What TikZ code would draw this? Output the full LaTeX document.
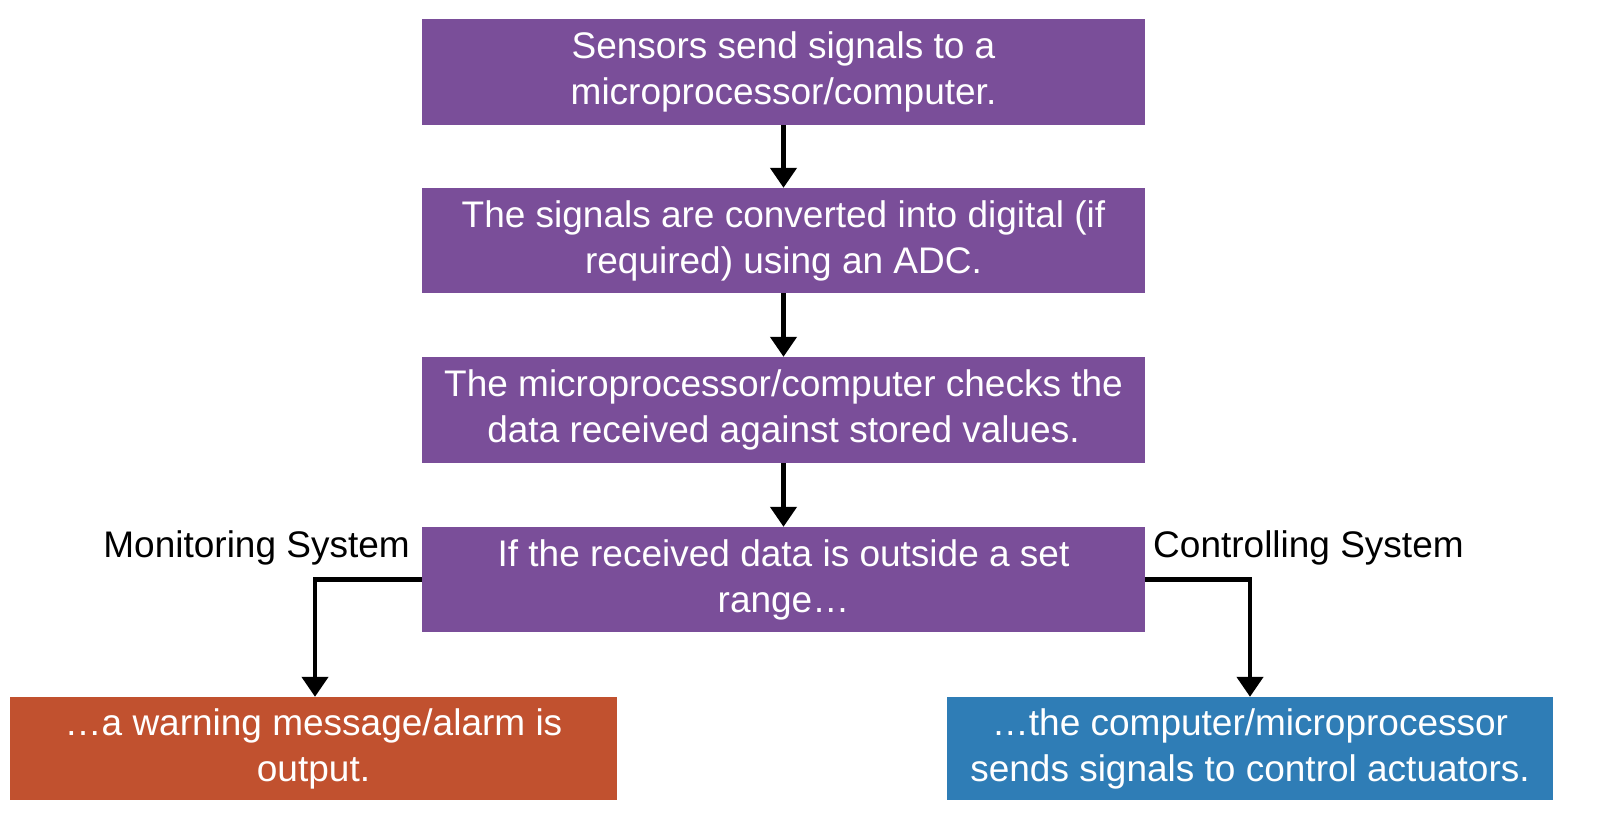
\documentclass[tikz,border=0pt]{standalone}
\usepackage{fontspec}
\setmainfont{Liberation Sans}
\usetikzlibrary{arrows.meta}
\definecolor{purp}{HTML}{7A4E99}
\definecolor{oran}{HTML}{C1512F}
\definecolor{blu}{HTML}{2F7DB6}
\tikzset{
 x=1pt,y=-1pt,
 box/.style={fill=#1,text=white,inner sep=0pt,align=center,font=\fontsize{37}{46}\selectfont},
 arr/.style={line width=4.5pt,-{Triangle[length=20pt,width=26pt]}},
 lab/.style={font=\fontsize{37}{40}\selectfont,inner sep=0pt}
}
\begin{document}
\begin{tikzpicture}
\useasboundingbox (0,0) rectangle (1600,830);
\node[box=purp,minimum width=723pt,minimum height=106pt] (a) at (783.5,72) {Sensors send signals to a\\microprocessor/computer.};
\node[box=purp,minimum width=723pt,minimum height=105pt] (b) at (783.5,240.5) {The signals are converted into digital (if\\required) using an ADC.};
\node[box=purp,minimum width=723pt,minimum height=106pt] (c) at (783.5,410) {The microprocessor/computer checks the\\data received against stored values.};
\node[box=purp,minimum width=723pt,minimum height=105pt] (d) at (783.5,579.5) {If the received data is outside a set\\range…};
\node[box=oran,minimum width=607pt,minimum height=103pt] (e) at (313.5,748.5) {…a warning message/alarm is\\output.};
\node[box=blu,minimum width=606pt,minimum height=103pt] (f) at (1250,748.5) {…the computer/microprocessor\\sends signals to control actuators.};
\draw[arr] (a.south) -- (b.north);
\draw[arr] (b.south) -- (c.north);
\draw[arr] (c.south) -- (d.north);
\draw[arr] (d.west) -| ([xshift=1.5pt]e.north);
\draw[arr] (d.east) -| (f.north);
\node[lab,anchor=east] (m) at (410,548) {Monitoring System};
\node[lab,anchor=west] (k) at (1153,548) {Controlling System};
\end{tikzpicture}
\end{document}
